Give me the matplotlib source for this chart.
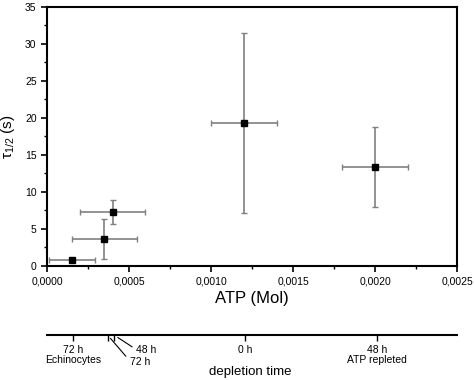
import numpy as np
import matplotlib.pyplot as plt
from matplotlib.ticker import FuncFormatter, MultipleLocator

plt.rcParams['font.family'] = ['Liberation Sans', 'DejaVu Sans']

# ATP (Mol) vs half time
atp = [0.00015, 0.00035, 0.0004, 0.0012, 0.002]
atp_err = [0.00014, 0.0002, 0.0002, 0.0002, 0.0002]
tau = [0.75, 3.6, 7.3, 19.3, 13.4]
tau_err = [0.0, 2.7, 1.65, 12.2, 5.4]

# depletion time axis
dep_pos = [0.00016, 0.00037, 0.00041, 0.00121, 0.00201]
dep_labels = ['72 h\nEchinocytes', '72 h', '48 h', '0 h', '48 h\nATP repleted']

fig = plt.figure(figsize=(4.74, 3.8), dpi=100)
ax = fig.add_axes([0.0992, 0.3, 0.865, 0.6816])

ax.errorbar(atp, tau, xerr=atp_err, yerr=tau_err, fmt='none', ecolor='#808080',
            elinewidth=1.2, capsize=2.5, capthick=1.0)
ax.plot(atp, tau, 's', color='black', markersize=5)

ax.set_xlim(0, 0.0025)
ax.set_ylim(0, 35)
ax.xaxis.set_major_locator(MultipleLocator(0.0005))
ax.xaxis.set_minor_locator(MultipleLocator(0.00025))
ax.yaxis.set_major_locator(MultipleLocator(5))
ax.yaxis.set_minor_locator(MultipleLocator(2.5))
ax.xaxis.set_major_formatter(FuncFormatter(lambda v, p: f'{v:.4f}'.replace('.', ',')))
ax.tick_params(which='major', direction='out', length=4, width=1.2, labelsize=7.5, top=False, right=False)
ax.tick_params(which='minor', direction='out', length=2.5, width=1.0, top=False, right=False)
for s in ax.spines.values():
    s.set_linewidth(1.5)
ax.set_xlabel('ATP (Mol)', fontsize=12, labelpad=3)
ax.set_ylabel(r'$\mathregular{\tau_{1/2}}$ (s)', fontsize=11, labelpad=6)

# secondary depletion time axis
ax2 = fig.add_axes([0.0992, 0.118, 0.865, 0.01])
ax2.set_xlim(0, 0.0025)
for k in ['top', 'left', 'right']:
    ax2.spines[k].set_visible(False)
ax2.spines['bottom'].set_linewidth(1.5)
ax2.set_yticks([])
ax2.set_xticks(dep_pos)
ax2.set_xticklabels([])
ax2.tick_params(axis='x', direction='out', length=4, width=1.0)

lab_kw = dict(ha='center', va='top', fontsize=7.5, linespacing=1.0)
for i in [0, 3, 4]:
    ax2.annotate(dep_labels[i], xy=(dep_pos[i], 0), xycoords=('data', 'axes fraction'),
                 xytext=(0, -7), textcoords='offset points', **lab_kw)

# leader lines for the two close ticks
ax2.annotate(dep_labels[2], xy=(dep_pos[2], 0), xycoords=('data', 'axes fraction'),
             xytext=(23, -11), textcoords='offset points', ha='center', va='center',
             fontsize=7.5, arrowprops=dict(arrowstyle='-', color='black', lw=0.8,
                                           shrinkA=1, shrinkB=3, relpos=(0, 0.6)))
ax2.annotate(dep_labels[1], xy=(dep_pos[1], 0), xycoords=('data', 'axes fraction'),
             xytext=(23, -19), textcoords='offset points', ha='center', va='center',
             fontsize=7.5, arrowprops=dict(arrowstyle='-', color='black', lw=0.8,
                                           shrinkA=1, shrinkB=3, relpos=(0, 0.6)))
fig.text(0.528, 0.006, 'depletion time', ha='center', va='bottom', fontsize=9.5)

fig.savefig('out.png', dpi=100)
